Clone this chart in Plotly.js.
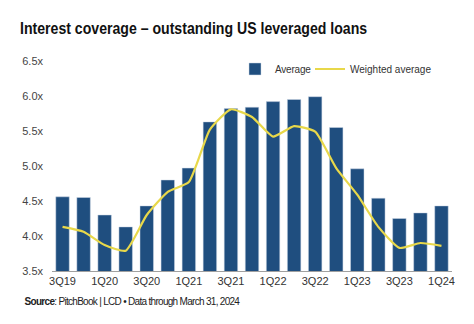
<!DOCTYPE html>
<html>
<head>
<meta charset="utf-8">
<script src="https://cdn.plot.ly/plotly-3.0.1.min.js"></script>
<style>
html,body{margin:0;padding:0;background:#fff;}
#chart{width:474px;height:324px;}
#chart .gtitle{transform-box:view-box;transform-origin:20px 28px;transform:scaleX(0.83);}
#chart .annotation-text{letter-spacing:-0.7px;}
#chart .legendtext{letter-spacing:-0.2px;}
</style>
</head>
<body>
<div id="chart"></div>
<script>
const quarters = ["3Q19","4Q19","1Q20","2Q20","3Q20","4Q20","1Q21","2Q21","3Q21","4Q21","1Q22","2Q22","3Q22","4Q22","1Q23","2Q23","3Q23","4Q23","1Q24"];
const averageValues = [4.56,4.55,4.30,4.13,4.43,4.80,4.97,5.63,5.82,5.84,5.92,5.95,5.99,5.55,4.96,4.54,4.25,4.33,4.43];
const weightedValues = [4.13,4.06,3.87,3.79,4.30,4.63,4.77,5.52,5.81,5.70,5.42,5.57,5.49,4.97,4.59,4.13,3.83,3.90,3.86];
const xTickLabels = ["3Q19","1Q20","3Q20","1Q21","3Q21","1Q22","3Q22","1Q23","3Q23","1Q24"];
const yTickValues = [3.5,4.0,4.5,5.0,5.5,6.0,6.5];
const yTickLabels = ["3.5x","4.0x","4.5x","5.0x","5.5x","6.0x","6.5x"];

const font = "Liberation Sans, Arial, sans-serif";
const data = [
  {type:"bar", name:"Average", x:quarters, y:averageValues, legend:"legend",
   marker:{color:"#1f4e7f", line:{color:"#cfd8e6", width:0.5}}, width:0.64},
  {type:"scatter", mode:"lines", name:"Weighted average", x:quarters, y:weightedValues, legend:"legend2",
   line:{color:"#e8d84a", width:2.2, shape:"spline", smoothing:0.5}}
];
const legendBase = {orientation:"h", xanchor:"left", yanchor:"middle", y:0.962,
  font:{size:10, color:"#333"}, bgcolor:"rgba(0,0,0,0)", itemwidth:30};
const layout = {
  width:474, height:324,
  margin:{l:52, r:22, t:61, b:53},
  paper_bgcolor:"#fff", plot_bgcolor:"#fff",
  font:{family:font, color:"#333", size:11},
  title:{text:"<b>Interest coverage – outstanding US leveraged loans</b>",
    font:{family:font, size:17, color:"#111"},
    xref:"container", yref:"container", x:20/474, xanchor:"left", y:1-28/324, yanchor:"middle"},
  showlegend:true,
  legend:Object.assign({}, legendBase, {x:(275-40-52)/400}),
  legend2:Object.assign({}, legendBase, {x:(350-40-52)/400}),
  bargap:0.36,
  xaxis:{type:"category", range:[-0.5,18.5], tickmode:"array", tickvals:xTickLabels, ticktext:xTickLabels,
    showline:true, linecolor:"#a0a0a0", linewidth:1, ticks:"", showgrid:false, zeroline:false,
    tickfont:{size:11, color:"#333"}, fixedrange:true},
  yaxis:{range:[3.5,6.5], tickmode:"array", tickvals:yTickValues, ticktext:yTickLabels,
    showgrid:false, zeroline:false, showline:false, ticks:"", ticklen:0, ticklabelstandoff:8,
    tickfont:{size:11, color:"#444"}, fixedrange:true},
  annotations:[
    {xref:"paper", yref:"paper", x:-48/400, y:-30/210, xanchor:"left", yanchor:"middle", showarrow:false,
     text:"<b>Source</b>: PitchBook | LCD • Data through March 31, 2024",
     font:{family:font, size:10, color:"#222"}}
  ]
};
Plotly.newPlot("chart", data, layout, {displayModeBar:false, staticPlot:true});
</script>
</body>
</html>
